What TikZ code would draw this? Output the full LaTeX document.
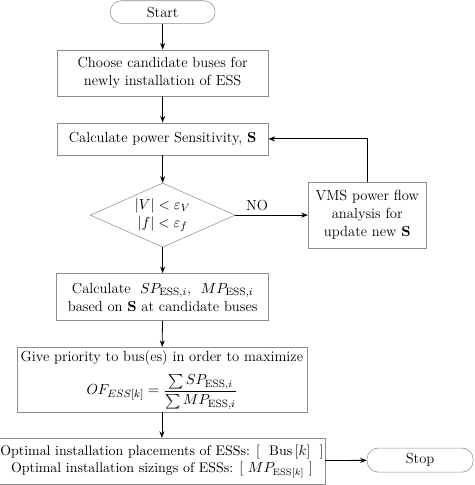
\documentclass[tikz,border=0pt]{standalone}
\usepackage{amsmath}
\usepackage{tikz}
\usetikzlibrary{arrows.meta,positioning,shapes.geometric}
\definecolor{Frame}{HTML}{8C8C8C}

\begin{document}
\begin{tikzpicture}[font=\fontsize{11pt}{13.5pt}\selectfont,>={Stealth[length=5pt]},
    proc/.style={draw=Frame,align=center,inner sep=1pt},
    term/.style={draw=Frame,rounded corners=3mm,minimum width=2.78cm,minimum height=.6cm},
    flow/.style={semithick,->}]
        \useasboundingbox (0,0) rectangle (12.56,-12.85);
        \node[term] (start) at (4.31,-.32) {Start};
        \node[proc,minimum width=5.59cm,minimum height=1.22cm] (cand) at (4.31,-1.93) {Choose candidate buses for\\newly installation of ESS};
        \node[proc,minimum width=5.59cm,minimum height=.85cm] (sens) at (4.31,-3.68) {Calculate power Sensitivity, $\mathbf{S}$};
        \node[draw=Frame,diamond,aspect=2.27,inner sep=0pt,minimum width=3.84cm,minimum height=1.7cm,align=center] (chk) at (4.31,-5.7) {$\left|V\right| < \varepsilon_V$\\$\left|f\right| < \varepsilon_f$};
        \node[proc,minimum width=3.13cm,minimum height=1.75cm] (vms) at (9.73,-5.7) {VMS power flow\\analysis for\\update new $\mathbf{S}$};
        \node[proc,minimum width=5.62cm,minimum height=1.25cm] (spmp) at (4.31,-7.87) {Calculate \ $SP_{\mathrm{ESS},i}$, \ $MP_{\mathrm{ESS},i}$\\based on $\mathbf{S}$ at candidate buses};
        \node[proc,minimum width=7.69cm,minimum height=1.72cm] (prio) at (4.29,-10.06) {Give priority to bus(es) in order to maximize\\[6pt]$OF_{ESS[k]} = \dfrac{\sum SP_{\mathrm{ESS},i}}{\sum MP_{\mathrm{ESS},i}}$};
        \node[proc,minimum width=8.59cm,minimum height=1.22cm,font=\fontsize{10.5pt}{13pt}\selectfont] (res) at (4.29,-12.22) {Optimal installation placements of ESSs: [ \ Bus\,[$k$] \ ]\\Optimal installation sizings of ESSs: [ $MP_{\mathrm{ESS}[k]}$ ]};
        \node[term,minimum width=2.81cm,minimum height=.64cm] (stop) at (11.13,-12.19) {Stop};
        % main column
        \draw[flow] (start)--(cand);\draw[flow] (cand)--(sens);\draw[flow] (sens)--(chk);
        \draw[flow] (chk)--(spmp);\draw[flow] (spmp)--(prio);\draw[flow] (prio)--(res);
        \draw[flow] (res)--(stop);
        % update loop
        \draw[flow] (chk.east)--node[above,pos=.3]{NO}(vms.west);
        \draw[flow] (vms.north)|-(sens.east);
      \end{tikzpicture}
\end{document}
